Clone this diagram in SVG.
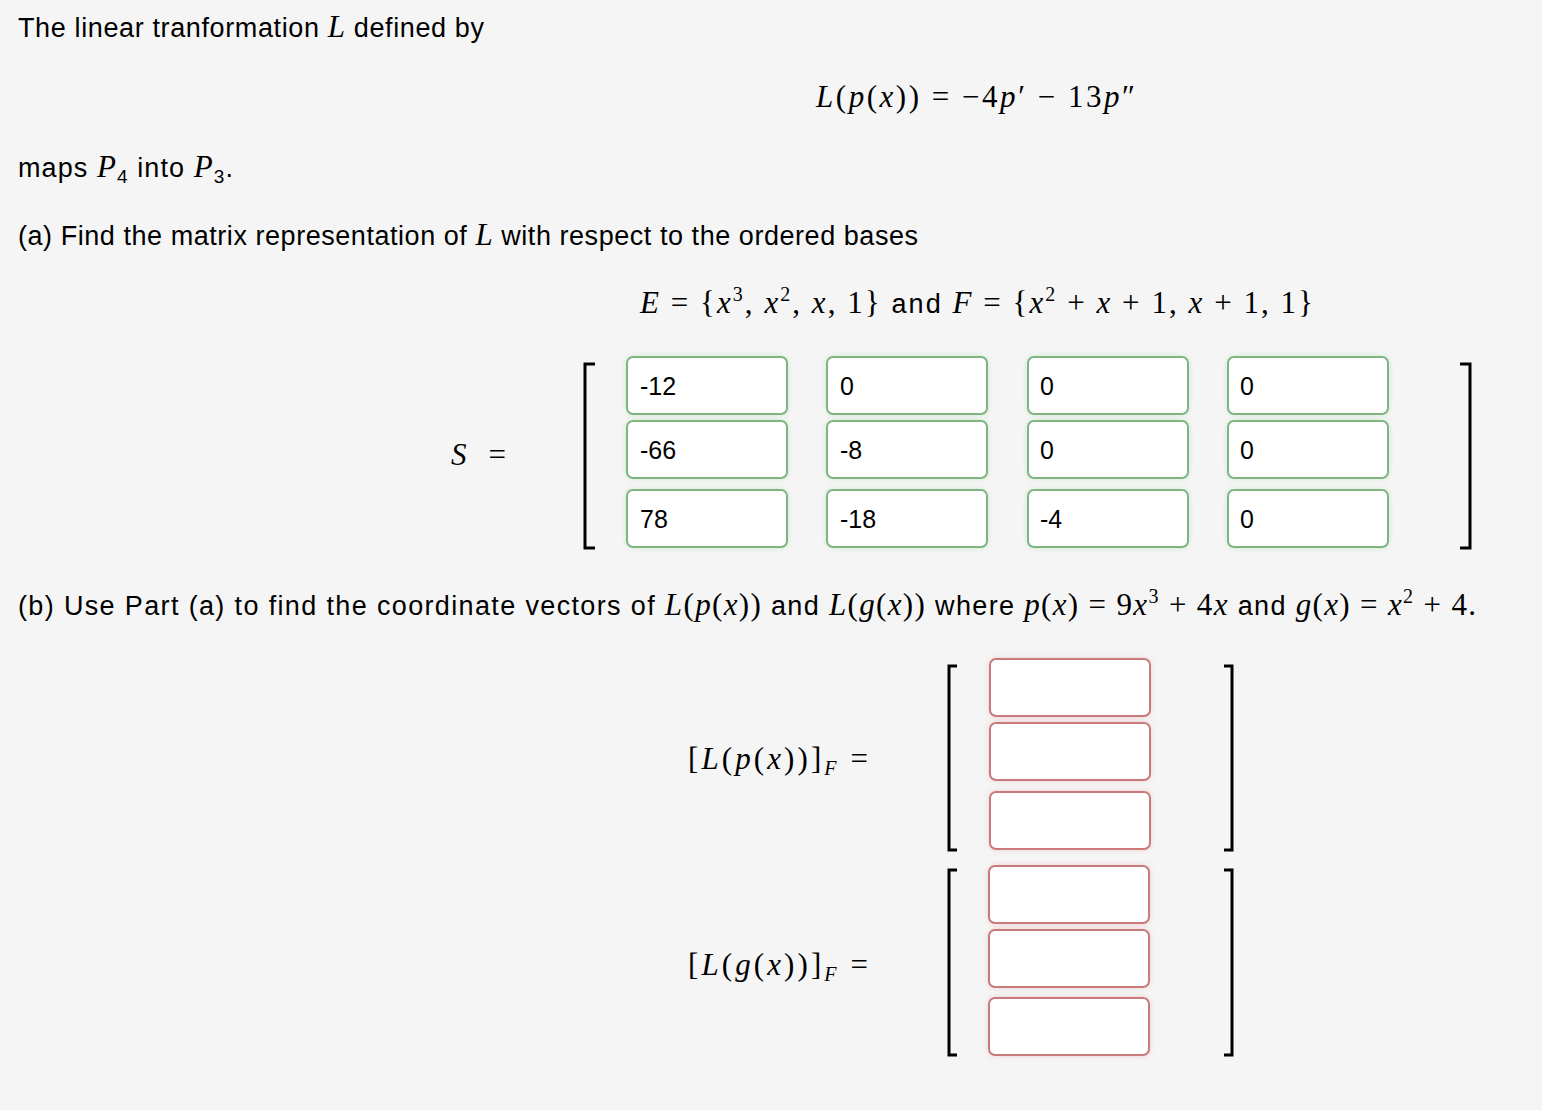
<svg xmlns="http://www.w3.org/2000/svg" width="1542" height="1110" viewBox="0 0 1542 1110">
<defs>
<style>
.t{font-family:"Liberation Sans",Arial,sans-serif;font-size:27px;fill:#000}
.m{font-family:"Liberation Serif","Times New Roman",serif;font-size:31px;fill:#000}
.i{font-style:italic}
.g{fill:#fff;stroke:#7fb57f;stroke-width:2}
.r{fill:#fff;stroke:#c97a7a;stroke-width:2}
.b{fill:none;stroke:#000;stroke-width:3}
.v{font-family:"Liberation Sans",Arial,sans-serif;font-size:25px;fill:#000}
</style>
<filter id="gg" x="-20%" y="-30%" width="140%" height="160%"><feGaussianBlur stdDeviation="3"/></filter>
</defs>
<rect width="1542" height="1110" fill="#f5f5f5"/>
<text class="t" x="18" y="37" textLength="466" lengthAdjust="spacing">The linear tranformation <tspan class="m i">L</tspan> defined by</text>
<text class="m" x="816" y="107" textLength="319" lengthAdjust="spacing"><tspan class="i">L</tspan>(<tspan class="i">p</tspan>(<tspan class="i">x</tspan>)) = −4<tspan class="i">p</tspan>′ − 13<tspan class="i">p</tspan>″</text>
<text class="t" x="18" y="177" textLength="215" lengthAdjust="spacing">maps <tspan class="m i">P</tspan><tspan font-size="19" dy="6">4</tspan><tspan dy="-6"> into </tspan><tspan class="m i">P</tspan><tspan font-size="19" dy="6">3</tspan><tspan dy="-6">.</tspan></text>
<text class="t" x="18" y="245" textLength="900" lengthAdjust="spacing">(a) Find the matrix representation of <tspan class="m i">L</tspan> with respect to the ordered bases</text>
<text class="m" x="640" y="313" textLength="673" lengthAdjust="spacing"><tspan class="i">E</tspan> = {<tspan class="i">x</tspan><tspan font-size="20" dy="-12">3</tspan><tspan dy="12">, </tspan><tspan class="i">x</tspan><tspan font-size="20" dy="-12">2</tspan><tspan dy="12">, </tspan><tspan class="i">x</tspan>, 1} <tspan class="t">and</tspan> <tspan class="i">F</tspan> = {<tspan class="i">x</tspan><tspan font-size="20" dy="-12">2</tspan><tspan dy="12"> + </tspan><tspan class="i">x</tspan> + 1, <tspan class="i">x</tspan> + 1, 1}</text>
<text class="m" x="451" y="465" textLength="55" lengthAdjust="spacing"><tspan class="i">S</tspan> =</text>
<path class="b" d="M595,364 H585 V548 H595 M1460,364 H1470 V548 H1460"/>
<g fill="#a8d5a8" opacity="0.6" filter="url(#gg)">
<rect x="627" y="357" width="160" height="57" rx="6"/><rect x="827" y="357" width="160" height="57" rx="6"/><rect x="1028" y="357" width="160" height="57" rx="6"/><rect x="1228" y="357" width="160" height="57" rx="6"/>
<rect x="627" y="421" width="160" height="57" rx="6"/><rect x="827" y="421" width="160" height="57" rx="6"/><rect x="1028" y="421" width="160" height="57" rx="6"/><rect x="1228" y="421" width="160" height="57" rx="6"/>
<rect x="627" y="490" width="160" height="57" rx="6"/><rect x="827" y="490" width="160" height="57" rx="6"/><rect x="1028" y="490" width="160" height="57" rx="6"/><rect x="1228" y="490" width="160" height="57" rx="6"/>
</g>
<g>
<rect class="g" x="627" y="357" width="160" height="57" rx="6"/><rect class="g" x="827" y="357" width="160" height="57" rx="6"/><rect class="g" x="1028" y="357" width="160" height="57" rx="6"/><rect class="g" x="1228" y="357" width="160" height="57" rx="6"/>
<rect class="g" x="627" y="421" width="160" height="57" rx="6"/><rect class="g" x="827" y="421" width="160" height="57" rx="6"/><rect class="g" x="1028" y="421" width="160" height="57" rx="6"/><rect class="g" x="1228" y="421" width="160" height="57" rx="6"/>
<rect class="g" x="627" y="490" width="160" height="57" rx="6"/><rect class="g" x="827" y="490" width="160" height="57" rx="6"/><rect class="g" x="1028" y="490" width="160" height="57" rx="6"/><rect class="g" x="1228" y="490" width="160" height="57" rx="6"/>
</g>
<text class="v" x="640" y="395">-12</text><text class="v" x="840" y="395">0</text><text class="v" x="1040" y="395">0</text><text class="v" x="1240" y="395">0</text>
<text class="v" x="640" y="459">-66</text><text class="v" x="840" y="459">-8</text><text class="v" x="1040" y="459">0</text><text class="v" x="1240" y="459">0</text>
<text class="v" x="640" y="528">78</text><text class="v" x="840" y="528">-18</text><text class="v" x="1040" y="528">-4</text><text class="v" x="1240" y="528">0</text>
<text class="t" x="18" y="615" textLength="1458" lengthAdjust="spacing">(b) Use Part (a) to find the coordinate vectors of <tspan class="m"><tspan class="i">L</tspan>(<tspan class="i">p</tspan>(<tspan class="i">x</tspan>))</tspan> and <tspan class="m"><tspan class="i">L</tspan>(<tspan class="i">g</tspan>(<tspan class="i">x</tspan>))</tspan> where <tspan class="m"><tspan class="i">p</tspan>(<tspan class="i">x</tspan>) = 9<tspan class="i">x</tspan><tspan font-size="20" dy="-12">3</tspan><tspan dy="12"> + 4</tspan><tspan class="i">x</tspan></tspan> and <tspan class="m"><tspan class="i">g</tspan>(<tspan class="i">x</tspan>) = <tspan class="i">x</tspan><tspan font-size="20" dy="-12">2</tspan><tspan dy="12"> + 4.</tspan></tspan></text>
<text class="m" x="688" y="769" textLength="180" lengthAdjust="spacing">[<tspan class="i">L</tspan>(<tspan class="i">p</tspan>(<tspan class="i">x</tspan>))]<tspan class="i" font-size="20" dy="6">F</tspan><tspan dy="-6"> =</tspan></text>
<text class="m" x="688" y="975" textLength="180" lengthAdjust="spacing">[<tspan class="i">L</tspan>(<tspan class="i">g</tspan>(<tspan class="i">x</tspan>))]<tspan class="i" font-size="20" dy="6">F</tspan><tspan dy="-6"> =</tspan></text>
<path class="b" d="M957,666 H949 V850 H957 M1224,666 H1232 V850 H1224 M957,870 H949 V1055 H957 M1224,870 H1232 V1055 H1224"/>
<g fill="#e8a0a0" opacity="0.6" filter="url(#gg)">
<rect x="990" y="659" width="160" height="57" rx="6"/><rect x="990" y="723" width="160" height="57" rx="6"/><rect x="990" y="792" width="160" height="57" rx="6"/>
<rect x="989" y="866" width="160" height="57" rx="6"/><rect x="989" y="930" width="160" height="57" rx="6"/><rect x="989" y="998" width="160" height="57" rx="6"/>
</g>
<rect class="r" x="990" y="659" width="160" height="57" rx="6"/><rect class="r" x="990" y="723" width="160" height="57" rx="6"/><rect class="r" x="990" y="792" width="160" height="57" rx="6"/>
<rect class="r" x="989" y="866" width="160" height="57" rx="6"/><rect class="r" x="989" y="930" width="160" height="57" rx="6"/><rect class="r" x="989" y="998" width="160" height="57" rx="6"/>
</svg>
